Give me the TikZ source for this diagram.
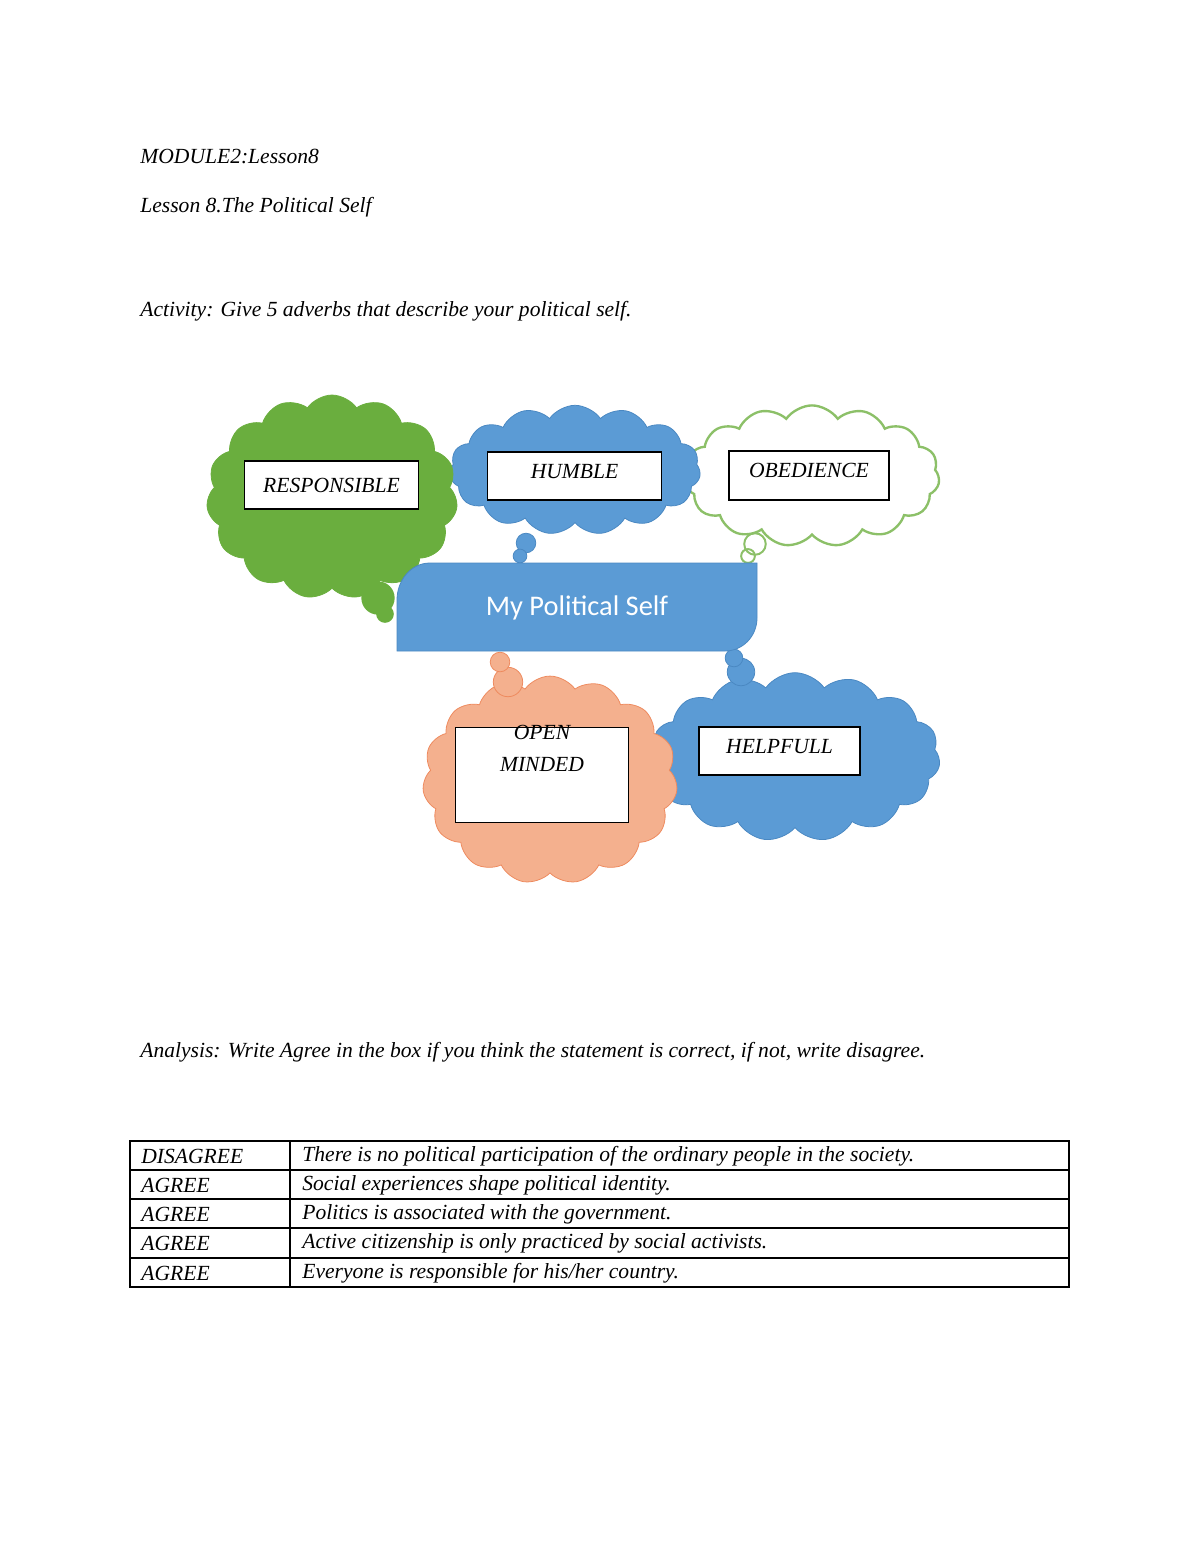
\documentclass[tikz,border=0pt]{standalone}
\usepackage{fontspec}
\setmainfont{Liberation Serif}
\newfontfamily\calib{Carlito}
\usetikzlibrary{shapes.symbols}
\definecolor{cgreen}{HTML}{6AAE3E}
\definecolor{cblue}{HTML}{5B9BD5}
\definecolor{cbluedk}{HTML}{4A88C2}
\definecolor{corange}{HTML}{F4B08E}
\definecolor{corangedk}{HTML}{EE8A5E}
\definecolor{coutl}{HTML}{8CC068}
\tikzset{
  cld/.style={cloud, cloud puffs=15, cloud puff arc=110, aspect=1.4, inner sep=0pt},
  lbl/.style={draw=black, line width=0.7pt, fill=white, font=\itshape\fontsize{11}{13}\selectfont, inner sep=0pt},
  txt/.style={anchor=west, inner sep=0pt, font=\itshape\fontsize{11}{13}\selectfont},
  cell/.style={anchor=west, inner sep=0pt, font=\itshape\fontsize{11}{13}\selectfont}
}
\begin{document}
\begin{tikzpicture}[x=0.51pt,y=0.51pt]
\useasboundingbox (0,0) rectangle (1200,-1553);
\node[txt] (t1) at (140,-156) {MODULE2:Lesson8};
\node[txt] (t2) at (140,-207) {Lesson 8.The Political Self};
\node[txt] (t3) at (140,-311) {Activity: Give 5 adverbs that describe your political self.};
% obedience
\node[cld, draw=coutl, line width=1.2pt, fill=white, minimum width=130pt, minimum height=72pt] (cobe) at (812,-476) {};
\node[circle, draw=coutl, line width=1pt, minimum size=11pt, inner sep=0pt] (ob1) at (755,-544) {};
\node[circle, draw=coutl, line width=1pt, minimum size=7pt, inner sep=0pt] (ob2) at (748,-556) {};
% humble
\node[cld, fill=cblue, draw=cbluedk, minimum width=128pt, minimum height=66pt] (chum) at (575,-470) {};
\node[circle, fill=cblue, draw=cbluedk, minimum size=10pt, inner sep=0pt] (hu1) at (526,-543) {};
\node[circle, fill=cblue, draw=cbluedk, minimum size=7pt, inner sep=0pt] (hu2) at (520,-556) {};
% responsible
\node[cld, fill=cgreen, draw=cgreen, aspect=1.15, minimum width=128pt, minimum height=104pt] (cres) at (332,-497) {};
\node[circle, fill=cgreen, minimum size=17pt, inner sep=0pt] (re1) at (378,-598) {};
\node[circle, fill=cgreen, minimum size=9pt, inner sep=0pt] (re2) at (385,-614) {};
% helpfull
\node[cld, fill=cblue, draw=cbluedk, minimum width=148pt, minimum height=86pt] (chel) at (795,-757) {};
\node[circle, fill=cblue, draw=cbluedk, minimum size=14pt, inner sep=0pt] (he1) at (741,-672) {};
\node[circle, fill=cblue, draw=cbluedk, minimum size=9pt, inner sep=0pt] (he2) at (734,-658) {};
% open minded
\node[cld, fill=corange, draw=corangedk, aspect=1.1, minimum width=130pt, minimum height=106pt] (cope) at (550,-780) {};
\node[circle, fill=corange, draw=corangedk, minimum size=15pt, inner sep=0pt] (op1) at (508,-682) {};
\node[circle, fill=corange, draw=corangedk, minimum size=10pt, inner sep=0pt] (op2) at (500,-662) {};
% main
\draw[fill=cblue, draw=cbluedk] (397,-651) -- (397,-600) to[out=90,in=180] (430,-563) -- (757,-563) -- (757,-618) to[out=-90,in=0] (725,-651) -- cycle;
\node[text=white, font=\calib\fontsize{14.5}{16}\selectfont] (main) at (577,-608) {My Political Self};
% labels
\node[lbl, minimum width=89pt, minimum height=24.5pt] (lres) at (331.5,-485) {RESPONSIBLE};
\node[lbl, minimum width=89pt, minimum height=24.5pt] (lhum) at (574.5,-476) {\raisebox{5pt}{HUMBLE}};
\node[lbl, minimum width=81.5pt, minimum height=25pt] (lobe) at (809,-475.5) {\raisebox{5pt}{OBEDIENCE}};
\node[lbl, minimum width=88pt, minimum height=48.5pt, align=center, anchor=north] (lope) at (542,-727) {\\[-8pt]OPEN\\[3pt]MINDED\\[12pt]};
\node[lbl, minimum width=82pt, minimum height=24.5pt] (lhel) at (779.5,-751) {\raisebox{5pt}{HELPFULL}};
\node[txt] (t4) at (140,-1052) {Analysis: Write Agree in the box if you think the statement is correct, if not, write disagree.};
% table
\draw[line width=1.3pt] (130,-1141) rectangle (1069,-1287);
\foreach \yy in {1170,1199,1228,1258} \draw[line width=1pt] (130,-\yy) -- (1069,-\yy);
\draw[line width=1pt] (290,-1141) -- (290,-1287);
\node[cell] (a1) at (141,-1156) {DISAGREE};
\node[cell] (b1) at (302,-1156) {There is no political participation of the ordinary people in the society.};
\node[cell] (a2) at (141,-1185) {AGREE};
\node[cell] (b2) at (302,-1185) {Social experiences shape political identity.};
\node[cell] (a3) at (141,-1214) {AGREE};
\node[cell] (b3) at (302,-1214) {Politics is associated with the government.};
\node[cell] (a4) at (141,-1243) {AGREE};
\node[cell] (b4) at (302,-1243) {Active citizenship is only practiced by social activists.};
\node[cell] (a5) at (141,-1273) {AGREE};
\node[cell] (b5) at (302,-1273) {Everyone is responsible for his/her country.};
\end{tikzpicture}
\end{document}
